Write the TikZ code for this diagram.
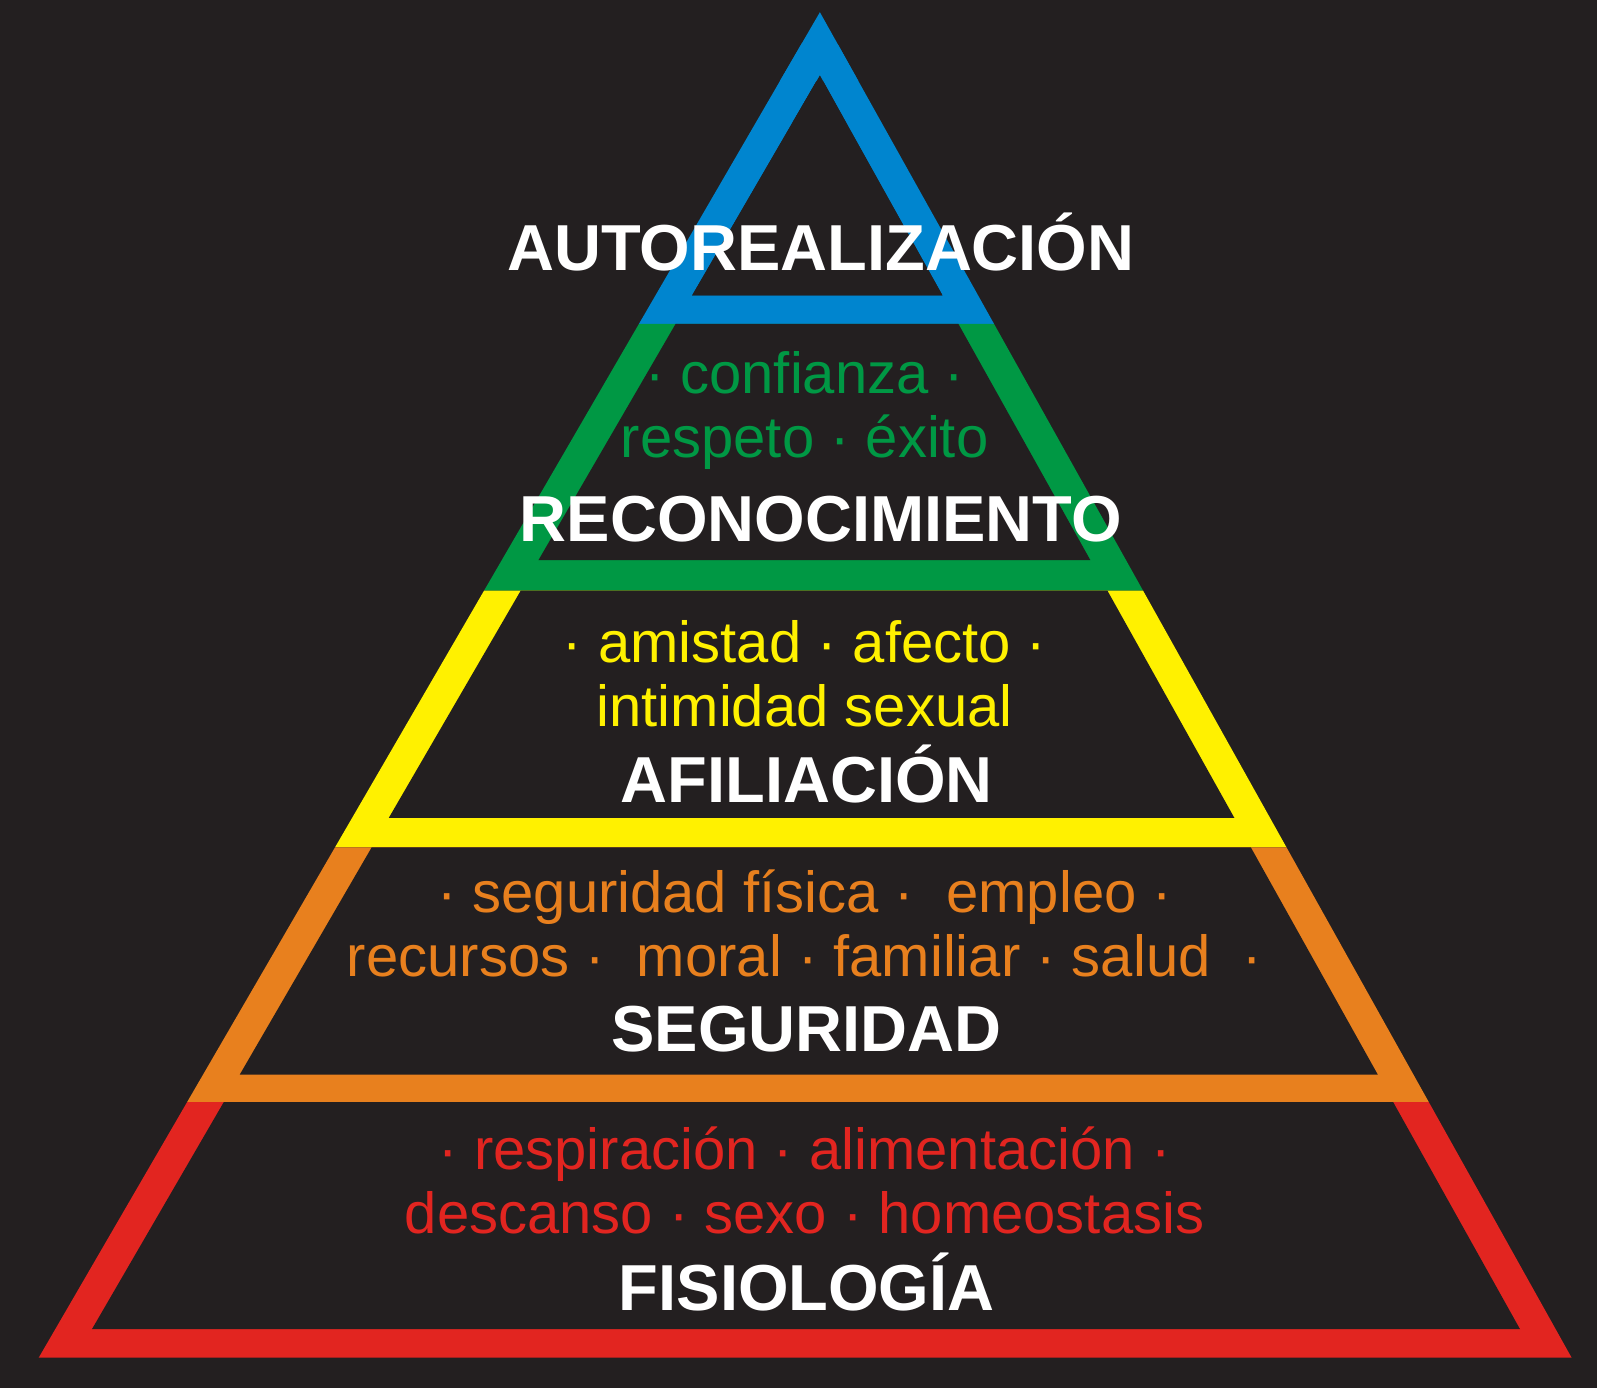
\documentclass[tikz,border=0pt]{standalone}
\usepackage{fontspec}
\setmainfont{Liberation Sans}
\definecolor{bg}{RGB}{35,31,32}
\definecolor{cblue}{RGB}{0,133,207}
\definecolor{cgreen}{RGB}{0,152,68}
\definecolor{cyellow}{RGB}{255,241,0}
\definecolor{corange}{RGB}{232,128,30}
\definecolor{cred}{RGB}{226,37,32}
\begin{document}
\begin{tikzpicture}[x=1.0185pt,y=-1.0185pt,
  ttl/.style={text=white,font=\fontsize{65}{68}\selectfont\bfseries,inner sep=0},
  sub/.style={font=\fontsize{58}{64}\selectfont,align=center,inner sep=0}]
\fill[bg] (0,0) rectangle (1568,1363);
\def\L#1{{805-0.5806*(#1-12)}}
\def\R#1{{805+0.5587*(#1-12)}}
\def\band#1#2#3#4{%
 \fill[#1] (\L{#2},#2) -- (\R{#2},#2) -- (\R{#3},#3) -- (\L{#3},#3) -- cycle;
 \fill[bg] ({805-0.5806*(#2-12)+36},#2) -- ({805+0.5587*(#2-12)-35},#2) -- ({805+0.5587*(#4-12)-35},#4) -- ({805-0.5806*(#4-12)+36},#4) -- cycle;}
\band{cblue}{12}{318}{290}
\fill[bg] (805,74) -- ({805+0.5587*(290-12)-35},290) -- ({805-0.5806*(290-12)+36},290) -- cycle;
\fill[cblue] (805,12) -- (\R{80},80) -- (\L{80},80) -- cycle;
\fill[bg] (805,74) -- ({805+0.5587*(120-12)-35},120) -- ({805-0.5806*(120-12)+36},120) -- cycle;
\band{cgreen}{318}{580}{550}
\band{cyellow}{580}{832}{803}
\band{corange}{832}{1082}{1055}
\band{cred}{1082}{1333}{1305}
\node[ttl] (t1) at (806,238) {AUTOREALIZACIÓN};
\node[sub,text=cgreen] (s1) at (790,403) {· confianza ·\\respeto · éxito};
\node[ttl] (t2) at (806,510) {RECONOCIMIENTO};
\node[sub,text=cyellow] (s2) at (790,662) {· amistad · afecto ·\\intimidad sexual};
\node[ttl] (t3) at (792,760) {AFILIACIÓN};
\node[sub,text=corange] (s3) at (790,907) {· seguridad física ·~~empleo ·\\recursos ·~~moral · familiar · salud~~·};
\node[ttl] (t4) at (792,1010) {SEGURIDAD};
\node[sub,text=cred] (s4) at (790,1159) {· respiración · alimentación ·\\descanso · sexo · homeostasis};
\node[ttl] (t5) at (792,1259) {FISIOLOGÍA};
\end{tikzpicture}
\end{document}
